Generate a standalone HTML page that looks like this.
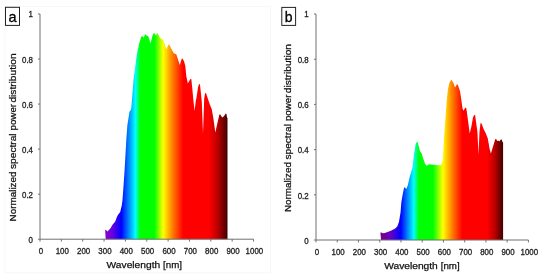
<!DOCTYPE html>
<html><head><meta charset="utf-8"><title>Normalized spectral power distribution</title>
<style>
html,body{margin:0;padding:0;background:#fff;}
body{width:550px;height:276px;overflow:hidden;font-family:"Liberation Sans",Arial,sans-serif;}
svg{display:block;font-family:"Liberation Sans",Arial,sans-serif;}
</style></head><body>
<svg width="550" height="276" viewBox="0 0 550 276">
<defs><linearGradient id="ga" gradientUnits="userSpaceOnUse" x1="105.7" y1="0" x2="227.5" y2="0"><stop offset="0.0000" stop-color="#8800c8"/><stop offset="0.0517" stop-color="#6a00e0"/><stop offset="0.1281" stop-color="#0000ff"/><stop offset="0.1864" stop-color="#0080ff"/><stop offset="0.2447" stop-color="#00ffff"/><stop offset="0.2833" stop-color="#00ff00"/><stop offset="0.3998" stop-color="#00ff00"/><stop offset="0.4721" stop-color="#ffff00"/><stop offset="0.5468" stop-color="#ff8000"/><stop offset="0.6363" stop-color="#ff0000"/><stop offset="0.8456" stop-color="#ff0000"/><stop offset="0.9220" stop-color="#b80000"/><stop offset="1.0000" stop-color="#400000"/></linearGradient><linearGradient id="gb" gradientUnits="userSpaceOnUse" x1="381" y1="0" x2="503.1" y2="0"><stop offset="0.0000" stop-color="#780088"/><stop offset="0.0737" stop-color="#6a00c0"/><stop offset="0.1622" stop-color="#0000ff"/><stop offset="0.2154" stop-color="#0080ff"/><stop offset="0.2686" stop-color="#00ffff"/><stop offset="0.3112" stop-color="#00ff00"/><stop offset="0.4259" stop-color="#00ff00"/><stop offset="0.5078" stop-color="#ffff00"/><stop offset="0.5815" stop-color="#ff8000"/><stop offset="0.6658" stop-color="#ff0000"/><stop offset="0.8681" stop-color="#ff0000"/><stop offset="0.9337" stop-color="#b80000"/><stop offset="1.0000" stop-color="#400000"/></linearGradient></defs>
<rect x="0" y="0" width="550" height="276" fill="#fff"/>
<rect x="4.9" y="6.5" width="265.7" height="266.3" fill="none" stroke="#f7f7f7" stroke-width="1"/>
<polygon points="105.7,239.2 105.15,230.15 105.7,229.7 106.25,230.15 107.5,231.4 110.3,228.6 112.5,224.8 115.2,221.5 116.8,217.2 117.9,215 120.2,212 121.8,205.5 122.5,200 123.5,186.4 124.6,170 126.3,140 127.4,125 129.5,111.5 130.5,110.5 131.3,108 133.5,80 136.7,55 138.9,44.6 141.1,37 142.2,35.9 143.8,37.5 144.95,34.75 145.5,34.3 146.05,34.75 147.1,35.9 148.2,35.9 150.6,43.5 152.3,36.3 153.45,33.55 154,33.1 154.55,33.55 155.8,35.5 156.75,33.65 157.3,33.2 157.85,33.65 159.5,37 160.7,38.6 163.5,40 165.4,46.4 166.4,49.4 167.5,46.4 168.45,44.95 169,44.5 169.55,44.95 171.4,49 173.6,53 176.4,54.5 178.6,61.4 179.8,65 180.8,61.4 181.65,59.05 182.2,58.6 182.75,59.05 184.1,61.4 185.3,66 186.3,76 187.8,83.4 190.25,79.25 190.8,78.8 191.35,79.25 192.2,87.5 193.4,100.5 194.6,110.9 195.9,100 196.4,98.5 198,87.6 198.85,84.55 199.4,84.1 199.95,84.55 200.7,90.9 201.8,101.8 203,134.1 204.2,98.5 205.05,93.55 205.6,93.1 206.15,93.55 207.8,98.5 210,105.1 211.7,109 213.4,118.5 215.3,132.5 217.7,121.8 219.35,114.65 219.9,114.2 220.45,114.65 221.5,116.4 222.6,117.5 224.3,115.8 225.35,114.05 225.9,113.6 226.45,114.05 227,117.5 227.5,118 227.5,239.2" fill="url(#ga)"/>
<polygon points="381,240 380.45,232.65 381,232.2 381.55,232.65 383.7,233.3 387,232.2 391.4,230.5 395.2,228.4 397.4,226.2 399,221.8 400.1,215.3 400.6,212 401.4,202 403,192.7 404.05,187.75 404.6,187.3 405.15,187.75 406.3,188.9 407.9,185.1 409.5,177.5 411.2,172 412.4,168 414,154.4 415.6,144.5 416.55,142.25 417.1,141.8 417.65,142.25 418.6,145.6 420,151.6 421.6,153.3 423.3,158.7 424.9,163.6 426.5,165.8 429.3,164.2 433.6,164.7 438,165.3 441.3,165.3 442.9,159.8 444,138 446.8,100 447.9,89.6 449.5,82.5 450.85,80.45 451.4,80 451.95,80.45 453.4,83.1 455,87.5 456.65,84.65 457.2,84.2 457.75,84.65 458.8,87.5 460.1,91.8 461.2,99 462.5,108.5 463.3,110.7 465.15,107.95 465.7,107.5 466.25,107.95 466.8,111.8 468.1,120.9 469.7,133.5 471.4,126.4 473,117.6 474.05,115.35 474.6,114.9 475.15,115.35 475.9,120.9 477.4,131.8 478.5,154.5 479.5,131.8 480.45,123.55 481,123.1 481.55,123.55 483.4,128.5 486.1,134 487.8,138.5 489.5,148.5 490.9,153.5 492.7,147.5 494.4,142 495.25,139.35 495.8,138.9 496.35,139.35 497.1,140.9 498.2,140.4 499.3,141.5 500.65,139.75 501.2,139.3 501.75,139.75 502.5,142 503.1,142.5 503.1,240" fill="url(#gb)"/>
<g stroke="#707070" stroke-width="1" fill="none"><path d="M40,14 V239.2 H253.5"/><path d="M40.00,239.2 v2.4"/><path d="M61.35,239.2 v2.4"/><path d="M82.70,239.2 v2.4"/><path d="M104.05,239.2 v2.4"/><path d="M125.40,239.2 v2.4"/><path d="M146.75,239.2 v2.4"/><path d="M168.10,239.2 v2.4"/><path d="M189.45,239.2 v2.4"/><path d="M210.80,239.2 v2.4"/><path d="M232.15,239.2 v2.4"/><path d="M253.50,239.2 v2.4"/><path d="M40,239.20 h-2"/><path d="M40,194.16 h-2"/><path d="M40,149.12 h-2"/><path d="M40,104.08 h-2"/><path d="M40,59.04 h-2"/><path d="M40,14.00 h-2"/></g>
<g stroke="#707070" stroke-width="1" fill="none"><path d="M316,14 V240 H528.4"/><path d="M316.00,240 v2.4"/><path d="M337.24,240 v2.4"/><path d="M358.48,240 v2.4"/><path d="M379.72,240 v2.4"/><path d="M400.96,240 v2.4"/><path d="M422.20,240 v2.4"/><path d="M443.44,240 v2.4"/><path d="M464.68,240 v2.4"/><path d="M485.92,240 v2.4"/><path d="M507.16,240 v2.4"/><path d="M528.40,240 v2.4"/><path d="M316,240.00 h-2"/><path d="M316,194.80 h-2"/><path d="M316,149.60 h-2"/><path d="M316,104.40 h-2"/><path d="M316,59.20 h-2"/><path d="M316,14.00 h-2"/></g>
<g font-size="8.4" fill="#222" stroke="#222" stroke-width="0.3"><text transform="translate(40.90,254) scale(0.94,1)" text-anchor="middle">0</text><text transform="translate(62.25,254) scale(0.94,1)" text-anchor="middle">100</text><text transform="translate(83.60,254) scale(0.94,1)" text-anchor="middle">200</text><text transform="translate(104.95,254) scale(0.94,1)" text-anchor="middle">300</text><text transform="translate(126.30,254) scale(0.94,1)" text-anchor="middle">400</text><text transform="translate(147.65,254) scale(0.94,1)" text-anchor="middle">500</text><text transform="translate(169.00,254) scale(0.94,1)" text-anchor="middle">600</text><text transform="translate(190.35,254) scale(0.94,1)" text-anchor="middle">700</text><text transform="translate(211.70,254) scale(0.94,1)" text-anchor="middle">800</text><text transform="translate(233.05,254) scale(0.94,1)" text-anchor="middle">900</text><text transform="translate(254.40,254) scale(0.94,1)" text-anchor="middle">1000</text><text transform="translate(33,242.80) scale(0.94,1)" text-anchor="end">0</text><text transform="translate(33,197.76) scale(0.94,1)" text-anchor="end">0.2</text><text transform="translate(33,152.72) scale(0.94,1)" text-anchor="end">0.4</text><text transform="translate(33,107.68) scale(0.94,1)" text-anchor="end">0.6</text><text transform="translate(33,62.64) scale(0.94,1)" text-anchor="end">0.8</text><text transform="translate(33,16.80) scale(0.94,1)" text-anchor="end">1</text></g>
<g font-size="8.4" fill="#222" stroke="#222" stroke-width="0.3"><text transform="translate(316.90,254.7) scale(0.94,1)" text-anchor="middle">0</text><text transform="translate(338.14,254.7) scale(0.94,1)" text-anchor="middle">100</text><text transform="translate(359.38,254.7) scale(0.94,1)" text-anchor="middle">200</text><text transform="translate(380.62,254.7) scale(0.94,1)" text-anchor="middle">300</text><text transform="translate(401.86,254.7) scale(0.94,1)" text-anchor="middle">400</text><text transform="translate(423.10,254.7) scale(0.94,1)" text-anchor="middle">500</text><text transform="translate(444.34,254.7) scale(0.94,1)" text-anchor="middle">600</text><text transform="translate(465.58,254.7) scale(0.94,1)" text-anchor="middle">700</text><text transform="translate(486.82,254.7) scale(0.94,1)" text-anchor="middle">800</text><text transform="translate(508.06,254.7) scale(0.94,1)" text-anchor="middle">900</text><text transform="translate(529.30,254.7) scale(0.94,1)" text-anchor="middle">1000</text><text transform="translate(308.6,243.80) scale(0.94,1)" text-anchor="end">0</text><text transform="translate(308.6,198.60) scale(0.94,1)" text-anchor="end">0.2</text><text transform="translate(308.6,153.40) scale(0.94,1)" text-anchor="end">0.4</text><text transform="translate(308.6,108.20) scale(0.94,1)" text-anchor="end">0.6</text><text transform="translate(308.6,63.00) scale(0.94,1)" text-anchor="end">0.8</text><text transform="translate(308.6,17.00) scale(0.94,1)" text-anchor="end">1</text></g>
<g font-size="9.3" fill="#111" stroke="#111" stroke-width="0.25" lengthAdjust="spacingAndGlyphs">
<text x="106.6" y="267.8" textLength="53.6" lengthAdjust="spacingAndGlyphs">Wavelength</text><text x="163.1" y="267.8" textLength="18.9" lengthAdjust="spacingAndGlyphs">[nm]</text>
<text x="384.2" y="268.9" textLength="53.6" lengthAdjust="spacingAndGlyphs">Wavelength</text><text x="440.7" y="268.9" textLength="18.9" lengthAdjust="spacingAndGlyphs">[nm]</text>
<g transform="translate(16.4,221.3) rotate(-90)"><text x="-0.2" y="0" textLength="50" lengthAdjust="spacingAndGlyphs">Normalized</text><text x="52.3" y="0" textLength="35.6" lengthAdjust="spacingAndGlyphs">spectral</text><text x="90.8" y="0" textLength="26.6" lengthAdjust="spacingAndGlyphs">power</text><text x="118.7" y="0" textLength="49.2" lengthAdjust="spacingAndGlyphs">distribution</text></g>
<g transform="translate(291.4,211.9) rotate(-90)"><text x="-0.2" y="0" textLength="50" lengthAdjust="spacingAndGlyphs">Normalized</text><text x="52.3" y="0" textLength="35.6" lengthAdjust="spacingAndGlyphs">spectral</text><text x="90.8" y="0" textLength="26.6" lengthAdjust="spacingAndGlyphs">power</text><text x="118.7" y="0" textLength="49.2" lengthAdjust="spacingAndGlyphs">distribution</text></g>
</g>
<rect x="5.5" y="7.3" width="14" height="18.1" fill="#fff" stroke="#222" stroke-width="1"/>
<rect x="281.8" y="7.4" width="13.8" height="18" fill="#fff" stroke="#222" stroke-width="1"/>
<text x="12.6" y="21.9" font-size="14.5" fill="#000" stroke="#000" stroke-width="0.3" text-anchor="middle">a</text>
<text x="288.6" y="21.5" font-size="14" fill="#000" stroke="#000" stroke-width="0.3" text-anchor="middle">b</text>
</svg>
</body></html>
